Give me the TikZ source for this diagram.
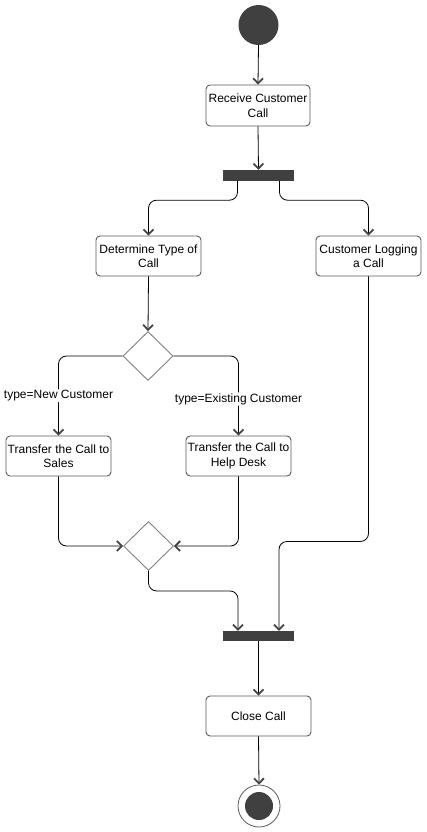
\documentclass[tikz,border=0pt]{standalone}
\usepackage{fontspec}
\setmainfont{Liberation Sans}
\usetikzlibrary{arrows.meta,shapes.geometric}
\definecolor{darkfill}{HTML}{404040}
\definecolor{boxline}{HTML}{5A5A5A}
\definecolor{tipcol}{HTML}{444444}
\tikzset{
  act/.style={draw=boxline, line width=0.9pt, rounded corners=4pt, fill=white,
    minimum width=105pt, minimum height=40pt, align=center, inner sep=1pt,
    font=\fontsize{12}{14.5}\selectfont},
  bar/.style={fill=darkfill, draw=none, minimum width=71pt, minimum height=11pt, inner sep=0pt},
  dec/.style={diamond, draw=gray, line width=0.9pt, fill=white, minimum width=50pt, minimum height=49pt, inner sep=0pt},
  conn/.style={draw=black, line width=0.8pt, rounded corners=8pt,
    -{Straight Barb[length=5pt,width=10pt,line width=1.8pt,color=tipcol]}},
  lab/.style={fill=white, inner sep=1pt, font=\fontsize{12}{14}\selectfont}
}
\begin{document}
\begin{tikzpicture}[x=1pt,y=-1pt]
\useasboundingbox (0,0) rectangle (427,832);
\node[circle, fill=darkfill, minimum size=40pt, inner sep=0pt] (start) at (258.5,25) {};
\node[act, minimum width=104pt, minimum height=41pt] (recv) at (258,105.5) {Receive Customer\\Call};
\node[bar] (fork) at (258.5,175.5) {};
\node[act] (det) at (148.5,256) {Determine Type of\\Call};
\node[act] (log) at (368.5,256) {Customer Logging\\a Call};
\node[dec] (d1) at (148,356) {};
\node[act] (sales) at (58.5,456) {Transfer the Call to\\Sales};
\node[act] (help) at (238.5,456) {Transfer the Call to\\Help Desk};
\node[dec] (d2) at (148.5,546) {};
\node[bar, minimum height=10pt] (join) at (258.5,636) {};
\node[act] (close) at (258.5,716) {Close Call};
\node[circle, draw=boxline, line width=0.8pt, fill=white, minimum size=42pt, inner sep=0pt] (end) at (259,806) {};
\node[circle, fill=darkfill, minimum size=28pt, inner sep=0pt] (endin) at (end.center) {};

\draw[conn] (start.south) -- (recv.north);
\draw[conn] (recv.south) -- (fork.north);
\draw[conn] ([xshift=-21pt]fork.south) -- ++(0,19) -| (det.north);
\draw[conn] ([xshift=21pt]fork.south) -- ++(0,19) -| (log.north);
\draw[conn] (det.south) -- (d1.north);
\draw[conn] (d1.west) -| node[lab, pos=0.75] (l1) {type=New Customer} (sales.north);
\draw[conn] (d1.east) -| node[lab, pos=0.77] (l2) {type=Existing Customer} (help.north);
\draw[conn] (sales.south) |- (d2.west);
\draw[conn] (help.south) |- (d2.east);
\draw[conn] (d2.south) -- ++(0,20) -| ([xshift=-20.5pt]join.north);
\draw[conn] (log.south) -- ++(0,265) -| ([xshift=20.5pt]join.north);
\draw[conn] (join.south) -- (close.north);
\draw[conn] (close.south) -- (end.north);
\end{tikzpicture}
\end{document}
